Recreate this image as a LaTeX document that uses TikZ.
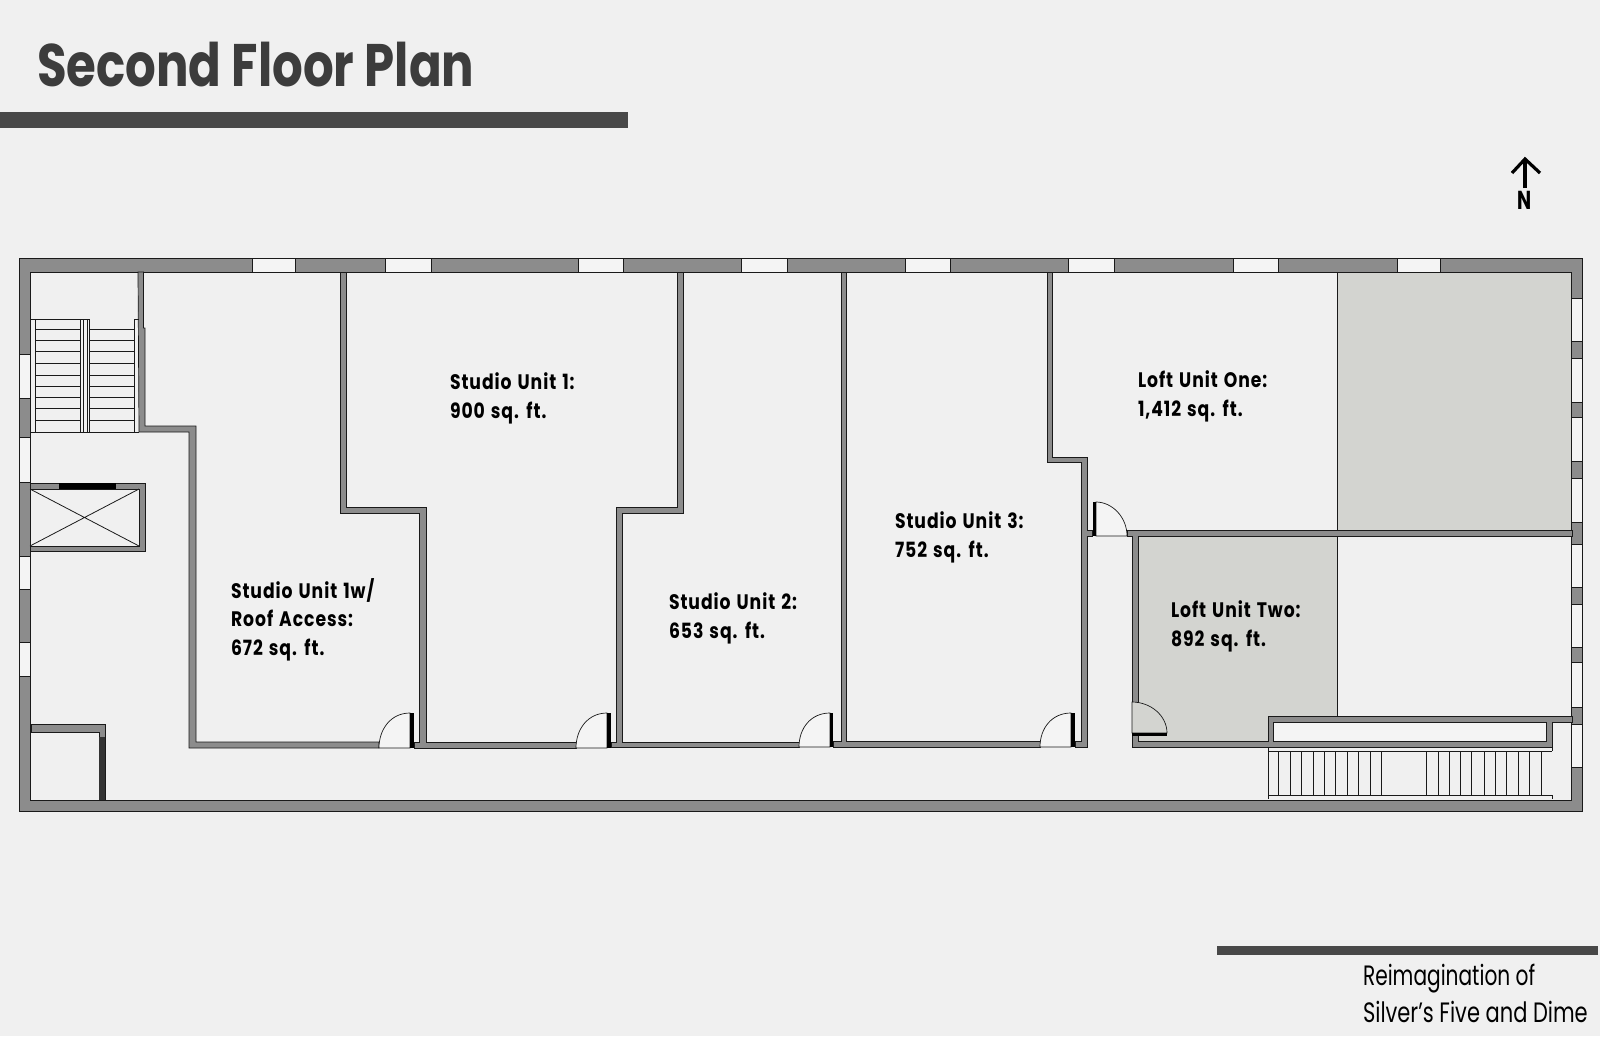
\documentclass[tikz,border=0pt]{standalone}
\usepackage{fontspec}
\usepackage{graphicx}
\setmainfont{Poppins}
\newfontfamily\lblfont{Poppins}[BoldFont={Poppins Bold},LetterSpace=5.5,WordSpace=1.3]
\definecolor{bgc}{HTML}{F0F0F0}
\definecolor{wallc}{HTML}{8C8C8C}
\definecolor{winc}{HTML}{F4F4F4}
\definecolor{roomc}{HTML}{D3D4D0}
\definecolor{titlec}{HTML}{3C3C3C}
\definecolor{barc}{HTML}{484848}
\definecolor{linec}{HTML}{1A1A1A}
\tikzset{
  wall/.style={fill=wallc,draw=linec,line width=0.7pt,even odd rule},
  win/.style={fill=winc,draw=linec,line width=0.7pt},
  room/.style={fill=roomc,draw=none},
  thin line/.style={draw=linec,line width=0.8pt},
  leaf/.style={fill=black,draw=none},
  swing/.style={draw=linec,line width=0.7pt},
  txt/.style={anchor=base west,inner sep=0pt,outer sep=0pt,text=black},
  unitlabel/.style={txt,align=left,font=\fontsize{21}{28.3}\selectfont\lblfont\bfseries}
}
\newcommand{\narrow}[2][0.82]{\scalebox{#1}[1]{#2}}
\begin{document}
\begin{tikzpicture}[x=1pt,y=-1pt]
\useasboundingbox (0,0) rectangle (1600,1036);
\fill[bgc] (0,0) rectangle (1600,1036);
% title and bars
\fill[barc] (0,112) rectangle (628,128);
\fill[barc] (1217,946) rectangle (1598,955);
\node[txt,text=titlec,font=\fontsize{60}{60}\selectfont\bfseries] (title) at (37,86) {\narrow[0.804]{Second Floor Plan}};
\node[txt,font=\fontsize{28}{28}\selectfont] (foot1) at (1363,985) {\narrow[0.72]{Reimagination of}};
\node[txt,font=\fontsize{28}{28}\selectfont] (foot2) at (1363,1022) {\narrow[0.75]{Silver’s Five and Dime}};
% north
\draw[line width=3.2pt,black] (1525,188) -- (1525,160);
\draw[line width=3.2pt,black] (1512,173) -- (1525,159) -- (1540,173);
\node[txt,font=\fontsize{26}{26}\selectfont\bfseries] (north) at (1517,209) {\narrow[0.72]{N}};
% shaded rooms
\fill[room] (1337,271) rectangle (1571,530);
\fill[room] (1138,536) -- (1337,536) -- (1337,716) -- (1268,716) -- (1268,741) -- (1138,741) -- cycle;
\draw[thin line] (1337,272) -- (1337,530);
\draw[thin line] (1337,536) -- (1337,716);
% outer wall
\path[wall] (19,258) rectangle (1582,811) (30,272) -- (1571,272) -- (1571,800) -- (30,800) -- cycle;
% top windows
\foreach \a/\b in {252/295,385/431,578/623,741/787,905/950,1068/1114,1233/1278,1397/1440}
  \path[win] (\a,258) rectangle (\b,272);
% west windows
\foreach \a/\b in {354/398,437/482,556/589,642/676}
  \path[win] (19,\a) rectangle (30,\b);
% east windows
\foreach \a/\b in {298/341,358/402,417/461,478/522,544/587,604/647,662/707,724/767}
  \path[win] (1571,\a) rectangle (1582,\b);
% interior walls
\path[wall] (138,272) -- (143.5,272) -- (143.5,328) -- (145,328) -- (145,426) -- (196,426) -- (196,742) -- (379,742) -- (379,748) -- (189,748) -- (189,432) -- (139,432) -- cycle;
\path[wall] (340,272) -- (346,272) -- (346,507) -- (426,507) -- (426,742) -- (576,742) -- (576,748) -- (414,748) -- (414,742) -- (419,742) -- (419,513) -- (340,513) -- cycle;
\path[wall] (677,272) -- (683,272) -- (683,513) -- (622,513) -- (622,742) -- (799,742) -- (799,747) -- (611,747) -- (611,742) -- (616,742) -- (616,507) -- (677,507) -- cycle;
\path[wall] (841,272) -- (846,272) -- (846,741) -- (1040,741) -- (1040,747) -- (833,747) -- (833,741) -- (841,741) -- cycle;
\path[wall] (1047,272) -- (1052,272) -- (1052,457) -- (1087,457) -- (1087,530) -- (1092,530) -- (1092,536) -- (1087,536) -- (1087,747) -- (1075,747) -- (1075,741) -- (1081,741) -- (1081,462) -- (1047,462) -- cycle;
\path[wall] (1127,530) -- (1572,530) -- (1572,536) -- (1138,536) -- (1138,702) -- (1132,702) -- (1132,536) -- (1127,536) -- cycle;
\path[wall] (1132,735) -- (1138,735) -- (1138,741) -- (1268,741) -- (1268,716) -- (1572,716) -- (1572,722) -- (1552,722) -- (1552,747) -- (1132,747) -- cycle (1273,722) rectangle (1546,741);
\fill[winc] (1273.5,722.5) rectangle (1545.5,740.5);
% elevator
\path[wall] (30,483) -- (145,483) -- (145,551) -- (30,551) -- cycle (30,489) rectangle (139,546);
\fill[black] (59,483) rectangle (116,489);
\draw[thin line] (30,489) -- (139,546) (139,489) -- (30,546);
% closet
\path[wall] (31,724) -- (105,724) -- (105,800) -- (99,800) -- (99,732) -- (31,732) -- cycle;
\fill[black!80] (99,737) rectangle (105,800);
% west stair
\draw[thin line] (30,319) -- (89,319);
\draw[thin line] (35,319) -- (35,432);
\draw[thin line] (80,319) -- (80,432) (83,319) -- (83,432) (87,319) -- (87,432) (89,319) -- (89,432);
\draw[thin line] (134.3,319) -- (134.3,432) (134.3,319) -- (139,319);
\foreach \y in {329.3,340.7,351.7,363.7,375,386,397.3,408.3,420.3} {
  \draw[thin line] (35,\y) -- (80,\y) (89,\y) -- (134.3,\y);
}
\draw[thin line] (31,432) -- (139,432);
% south stair
\draw[thin line] (1268,751) -- (1552,751);
\draw[thin line] (1268,795) -- (1552,795) (1552,795) -- (1552,799);
\draw[thin line] (1268,747) -- (1268,799);
\draw[thin line] (1552,747) -- (1552,751);
\foreach \x in {1278.6,1290.7,1301.8,1313.2,1324.6,1335.7,1347.1,1358.6,1370,1381,1426.4,1438.2,1449.6,1460.7,1471.4,1483.9,1495.4,1506.8,1517.9,1529.3,1541.1}
  \draw[thin line] (\x,751) -- (\x,795);
% doors
\path[swing,fill=winc] (379,748) .. controls (379,729) and (391,713) .. (410,713) -- (410,748) -- cycle;
\fill[leaf] (410,713) rectangle (414,748);
\path[swing,fill=winc] (576,748) .. controls (576,729) and (588,713) .. (607,713) -- (607,748) -- cycle;
\fill[leaf] (607,713) rectangle (611,748);
\path[swing,fill=winc] (799,747) .. controls (799,728) and (811,713) .. (830,713) -- (830,747) -- cycle;
\fill[leaf] (830,713) rectangle (833,747);
\path[swing,fill=winc] (1040,747) .. controls (1040,728) and (1052,713) .. (1071,713) -- (1071,747) -- cycle;
\fill[leaf] (1071,713) rectangle (1075,747);
\path[swing,fill=winc] (1127,536) .. controls (1127,517) and (1112,502) .. (1096,502) -- (1096,536) -- cycle;
\fill[leaf] (1092.5,502) rectangle (1096,536);
\path[swing,fill=roomc] (1132,702) .. controls (1151,702) and (1167,716) .. (1167,733) -- (1132,733) -- cycle;
\fill[leaf] (1132,733) rectangle (1167,736);
% labels
\node[unitlabel] (u1a) at (231,655) {\narrow{Studio Unit 1w/}\\\narrow{Roof Access:}\\\narrow{672 sq. ft.}};
\node[unitlabel] (u1) at (450,418) {\narrow{Studio Unit 1:}\\\narrow{900 sq. ft.}};
\node[unitlabel] (u2) at (669,638) {\narrow{Studio Unit 2:}\\\narrow{653 sq. ft.}};
\node[unitlabel] (u3) at (895,557) {\narrow{Studio Unit 3:}\\\narrow{752 sq. ft.}};
\node[unitlabel] (l1) at (1138,416) {\narrow{Loft Unit One:}\\\narrow{1,412 sq. ft.}};
\node[unitlabel] (l2) at (1171,646) {\narrow{Loft Unit Two:}\\\narrow{892 sq. ft.}};
\end{tikzpicture}
\end{document}
